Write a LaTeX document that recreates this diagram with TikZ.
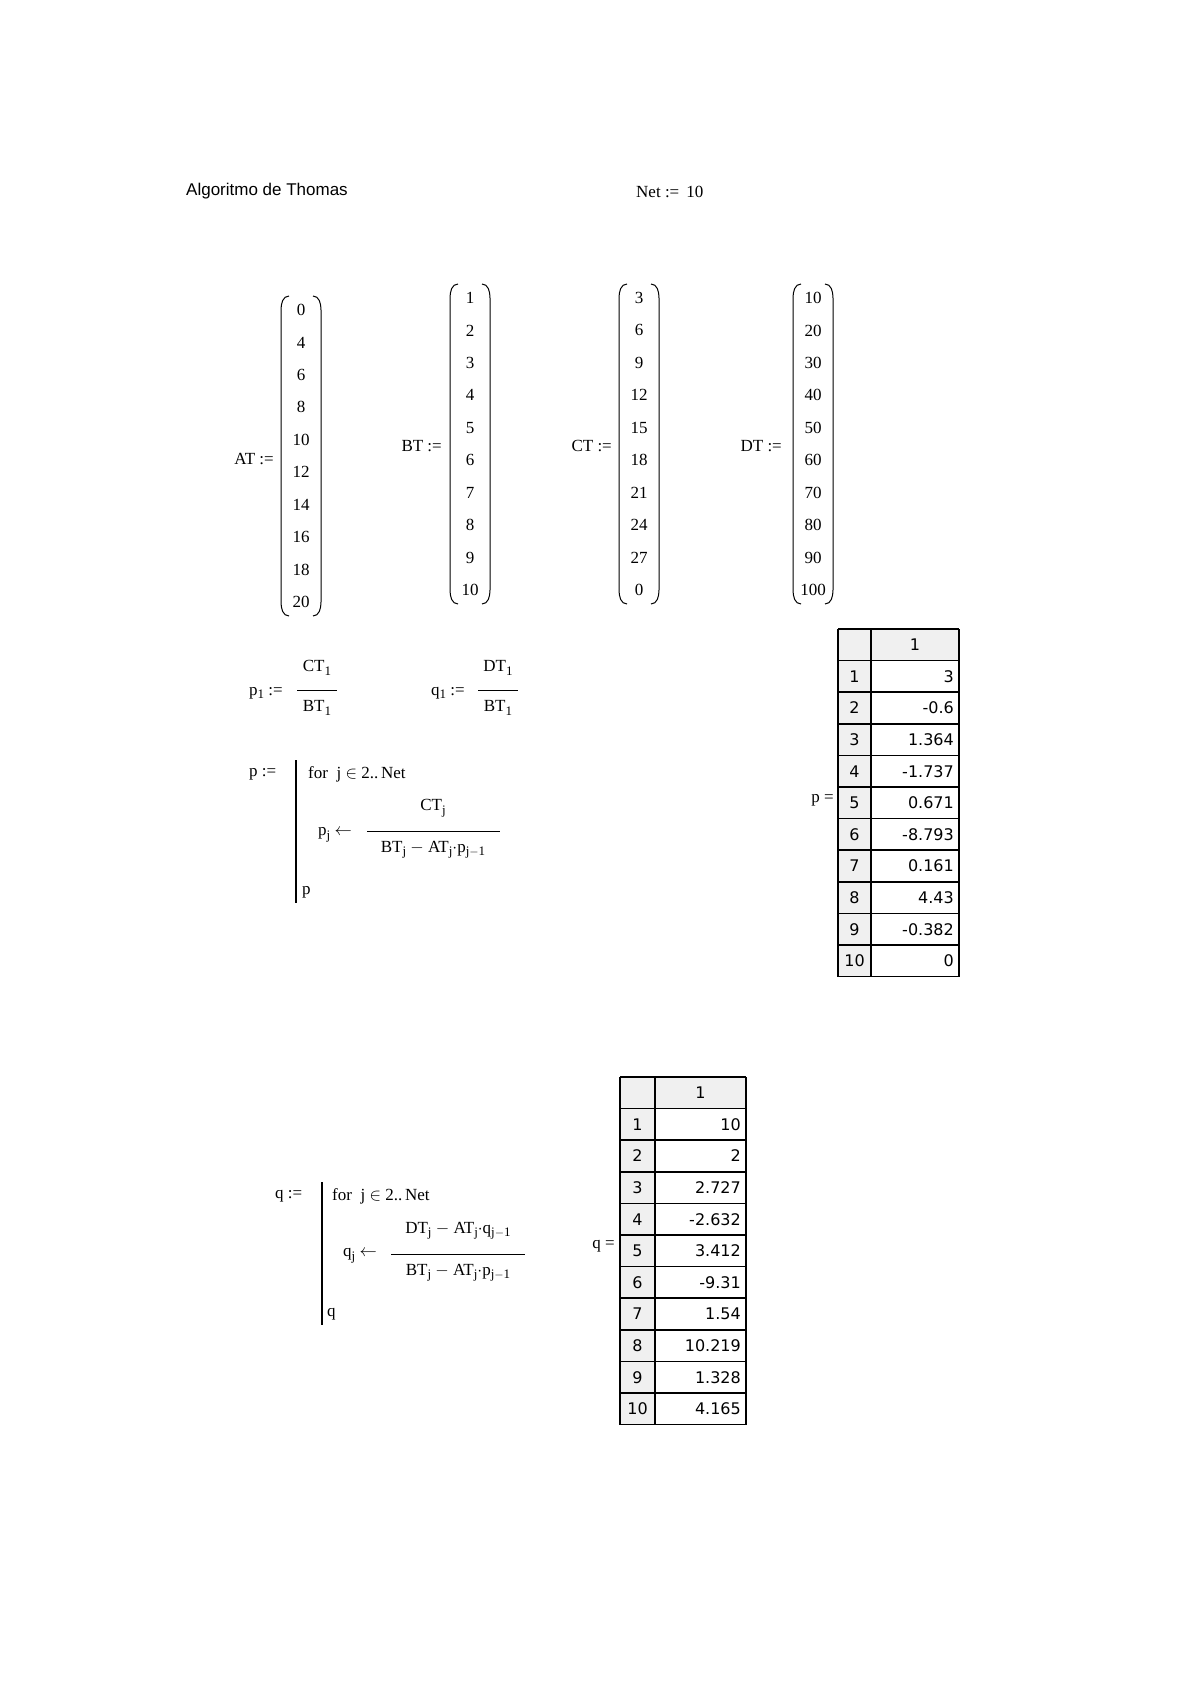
\documentclass[tikz,border=0pt]{standalone}
\usepackage{fontspec}
\setmainfont{Liberation Serif}
\newfontfamily\tabfont{DejaVu Sans}
\newfontfamily\hdfont{Liberation Sans}
\newcommand{\sbs}[1]{\raisebox{-0.45ex}{\fontsize{13}{13}\selectfont #1}}
\tikzset{
 mt/.style={font=\fontsize{17}{20}\selectfont, inner sep=0pt},
 tb/.style={font=\tabfont\fontsize{16}{19}\selectfont, inner sep=0pt},
 paren/.style={line width=1pt},
 grid/.style={line width=1.6pt},
 shade/.style={fill=black!6},
}
\newcommand{\vecmat}[5]{% name, xcenter, ytop, ybot, list
  \draw[paren] (#2-12,#3) to[out=180,in=90] (#2-20,#3+14) -- (#2-20,#4-14) to[out=270,in=180] (#2-12,#4);
  \draw[paren] (#2+12,#3) to[out=0,in=90] (#2+20,#3+14) -- (#2+20,#4-14) to[out=270,in=0] (#2+12,#4);
  \foreach \v [count=\i] in {#5} {
    \node[mt] (#1\i) at (#2,{#3+14+(\i-1)*(#4-#3-28)/9}) {\v};
  }
}
\newcommand{\valtable}[6]{% name x0 xi x1 y0 list
  \fill[shade] (#2,#5) rectangle (#4,#5+31.6);
  \fill[shade] (#2,#5) rectangle (#3,#5+11*31.6);
  \foreach \k in {0,...,11} \draw[grid] (#2,{#5+\k*31.6}) -- (#4,{#5+\k*31.6});
  \draw[grid] (#2,#5) -- (#2,#5+11*31.6);
  \draw[grid] (#3,#5) -- (#3,#5+11*31.6);
  \draw[grid] (#4,#5) -- (#4,#5+11*31.6);
  \node[tb] (#1h) at ({(#3+#4)/2},#5+15.8) {1};
  \foreach \v [count=\i] in {#6} {
    \node[tb] (#1i\i) at ({(#2+#3)/2},{#5+15.8+\i*31.6}) {\i};
    \node[tb,anchor=east] (#1v\i) at (#4-5,{#5+15.8+\i*31.6}) {\v};
  }
}
\begin{document}
\begin{tikzpicture}[x=1pt,y=-1pt]
\useasboundingbox (0,0) rectangle (1200,1696);
\fill[white] (0,0) rectangle (1200,1696);
\node[font=\hdfont\fontsize{17}{20}\selectfont,anchor=west,inner sep=0pt] (title) at (186,191) {Algoritmo de Thomas};
\node[mt,anchor=west] (net) at (636,192) {Net := \,10};
% matrices
\node[mt,anchor=east] (atl) at (274,459) {AT :=};
\vecmat{at}{301}{296}{616}{0,4,6,8,10,12,14,16,18,20}
\node[mt,anchor=east] (btl) at (442,446) {BT :=};
\vecmat{bt}{470}{284}{604}{1,2,3,4,5,6,7,8,9,10}
\node[mt,anchor=east] (ctl) at (612,446) {CT :=};
\vecmat{ct}{639}{284}{604}{3,6,9,12,15,18,21,24,27,0}
\node[mt,anchor=east] (dtl) at (782,446) {DT :=};
\vecmat{dt}{813}{284}{604}{10,20,30,40,50,60,70,80,90,100}
% p1 q1
\node[mt,anchor=west] (p1) at (249,693) {p\sbs{1} :=};
\draw[line width=1pt] (297,690) -- (337,690);
\node[mt] (p1n) at (317,668) {CT\sbs{1}};
\node[mt] (p1d) at (317,708) {BT\sbs{1}};
\node[mt,anchor=west] (q1) at (431,693) {q\sbs{1} :=};
\draw[line width=1pt] (478,690) -- (518,690);
\node[mt] (q1n) at (498,668) {DT\sbs{1}};
\node[mt] (q1d) at (498,708) {BT\sbs{1}};
% p program
\node[mt,anchor=west] (pdef) at (249,774) {p :=};
\draw[line width=2.5pt] (296,760) -- (296,903);
\node[mt,anchor=west] (pfor) at (308,774) {for \ j $\in$ 2..\,Net};
\node[mt,anchor=west] (pj) at (318,835) {p\sbs{j} $\leftarrow$};
\draw[line width=1pt] (367,831) -- (500,831);
\node[mt] (pjn) at (433,808) {CT\sbs{j}};
\node[mt] (pjd) at (433,850) {BT\sbs{j} $-$ AT\sbs{j}$\cdot$p\sbs{j$-$1}};
\node[mt,anchor=west] (pret) at (302,892) {p};
% p table
\node[mt,anchor=east] (peq) at (834,800) {p =};
\valtable{pt}{838}{871}{959}{629}{3,-0.6,1.364,-1.737,0.671,-8.793,0.161,4.43,-0.382,0}
% q program
\node[mt,anchor=west] (qdef) at (275,1196) {q :=};
\draw[line width=2.5pt] (322,1182) -- (322,1325);
\node[mt,anchor=west] (qfor) at (332,1196) {for \ j $\in$ 2..\,Net};
\node[mt,anchor=west] (qj) at (343,1256) {q\sbs{j} $\leftarrow$};
\draw[line width=1pt] (391,1254) -- (525,1254);
\node[mt] (qjn) at (458,1231) {DT\sbs{j} $-$ AT\sbs{j}$\cdot$q\sbs{j$-$1}};
\node[mt] (qjd) at (458,1273) {BT\sbs{j} $-$ AT\sbs{j}$\cdot$p\sbs{j$-$1}};
\node[mt,anchor=west] (qret) at (327,1314) {q};
% q table
\node[mt,anchor=east] (qeq) at (615,1246) {q =};
\valtable{qt}{620}{655}{746}{1077}{10,2,2.727,-2.632,3.412,-9.31,1.54,10.219,1.328,4.165}
\end{tikzpicture}
\end{document}
